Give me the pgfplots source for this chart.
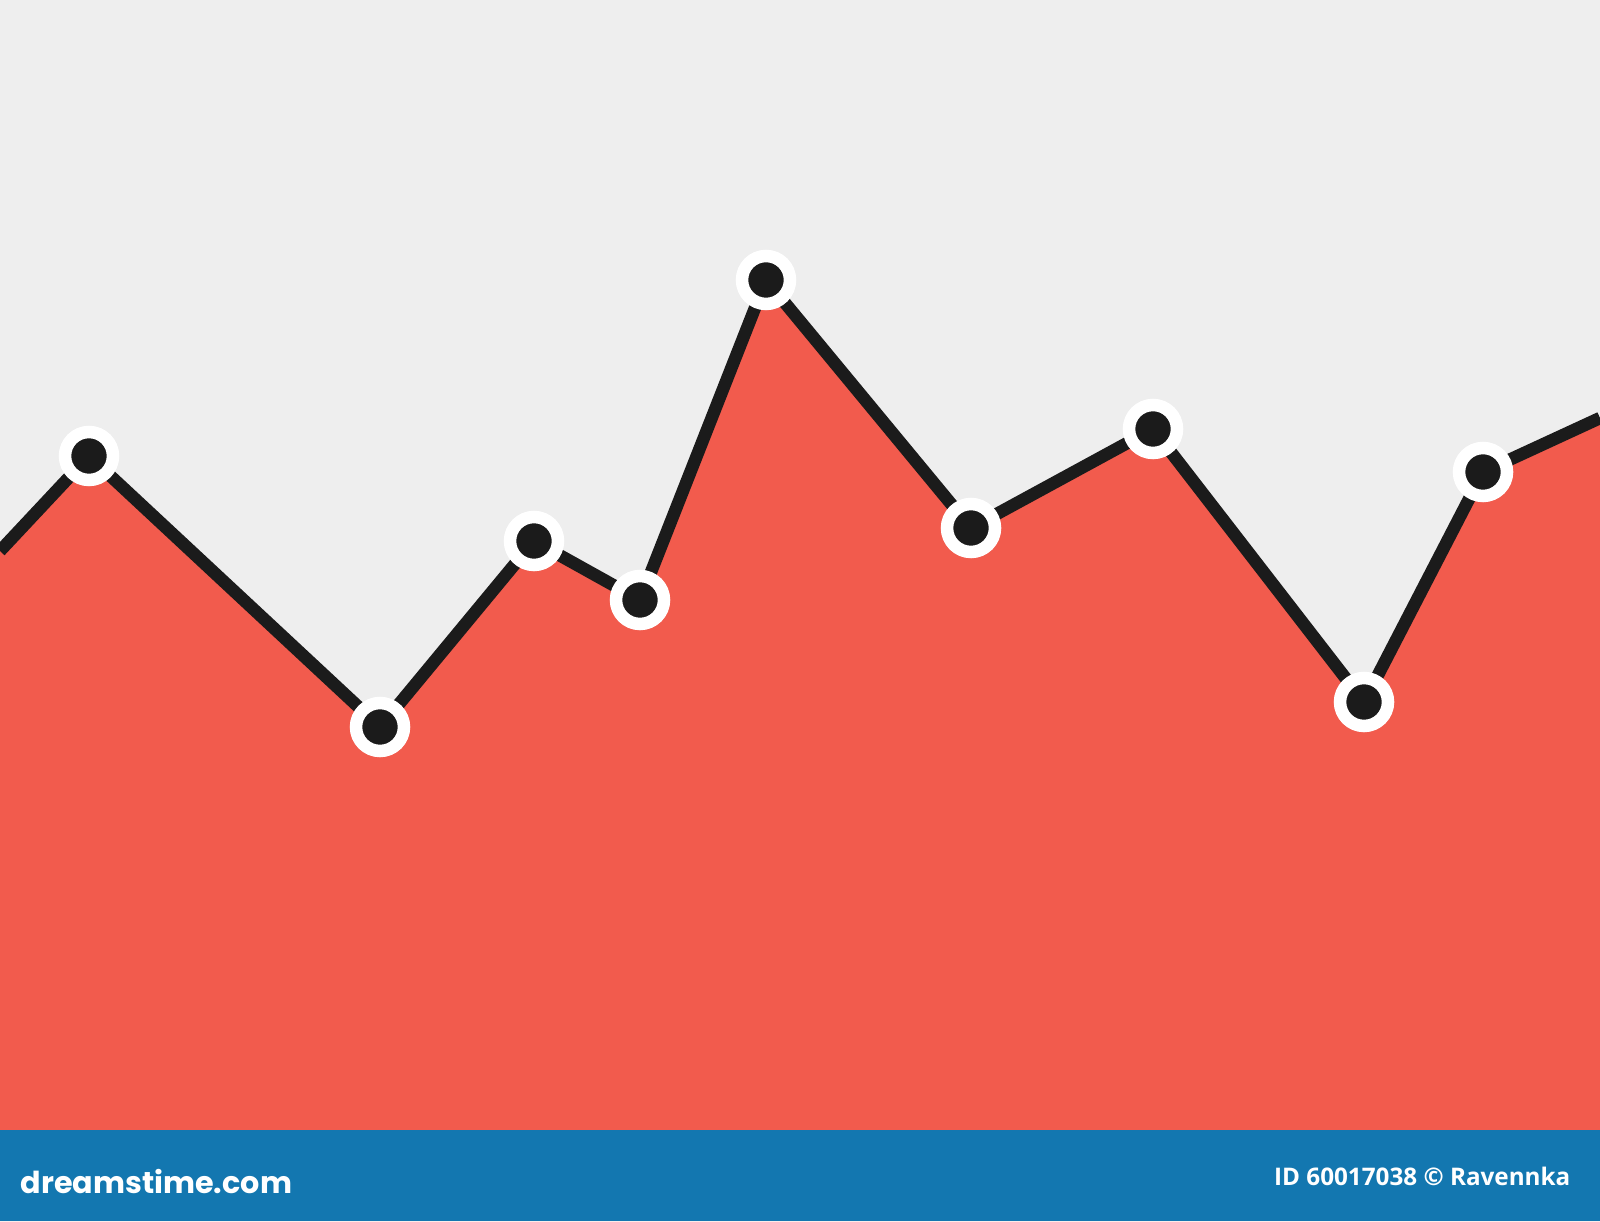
\documentclass[border=0pt]{standalone}
\usepackage{pgfplots}
\pgfplotsset{compat=1.18}
\usepackage{fontspec}
\setmainfont{Liberation Sans}
\newfontfamily\logofont{Poppins}
\newfontfamily\idfont{Open Sans}
\definecolor{bggray}{HTML}{EEEEEE}
\definecolor{areared}{HTML}{F25B4D}
\definecolor{bannerblue}{HTML}{1377B0}
\definecolor{linek}{HTML}{1B1B1B}
\begin{document}
\begin{tikzpicture}
\begin{axis}[
  width=16cm, height=12.21cm, scale only axis,
  xmin=0, xmax=1600, ymin=0, ymax=1221,
  hide axis,
  axis background/.style={fill=bggray},
  clip=true,
]
\addplot[fill=areared, draw=none] coordinates {
  (0,670) (89,765) (380,494) (534,680) (640,621) (766,941)
  (971,693) (1153,792) (1364,519) (1483,749) (1600,803)
} \closedcycle;
\addplot[linek, line width=1.25mm, line join=round] coordinates {
  (0,670) (89,765) (380,494) (534,680) (640,621) (766,941)
  (971,693) (1153,792) (1364,519) (1483,749) (1600,803)
};
\addplot[only marks, mark=*, mark size=2.4mm,
  mark options={fill=linek, draw=white, line width=1.25mm}] coordinates {
  (89,765) (380,494) (534,680) (640,621) (766,941)
  (971,693) (1153,792) (1364,519) (1483,749)
};
\end{axis}
\fill[bannerblue] (0,0) rectangle (16,0.91);
\node[anchor=base west, text=white, inner sep=0pt, font=\logofont\bfseries\fontsize{8.6}{10}\selectfont] at (0.2,0.28) {dreamstime.com};
\node[anchor=base east, text=white, inner sep=0pt, font=\idfont\bfseries\fontsize{6.9}{8}\selectfont] at (15.71,0.36) {ID 60017038 © Ravennka};
\end{tikzpicture}
\end{document}
